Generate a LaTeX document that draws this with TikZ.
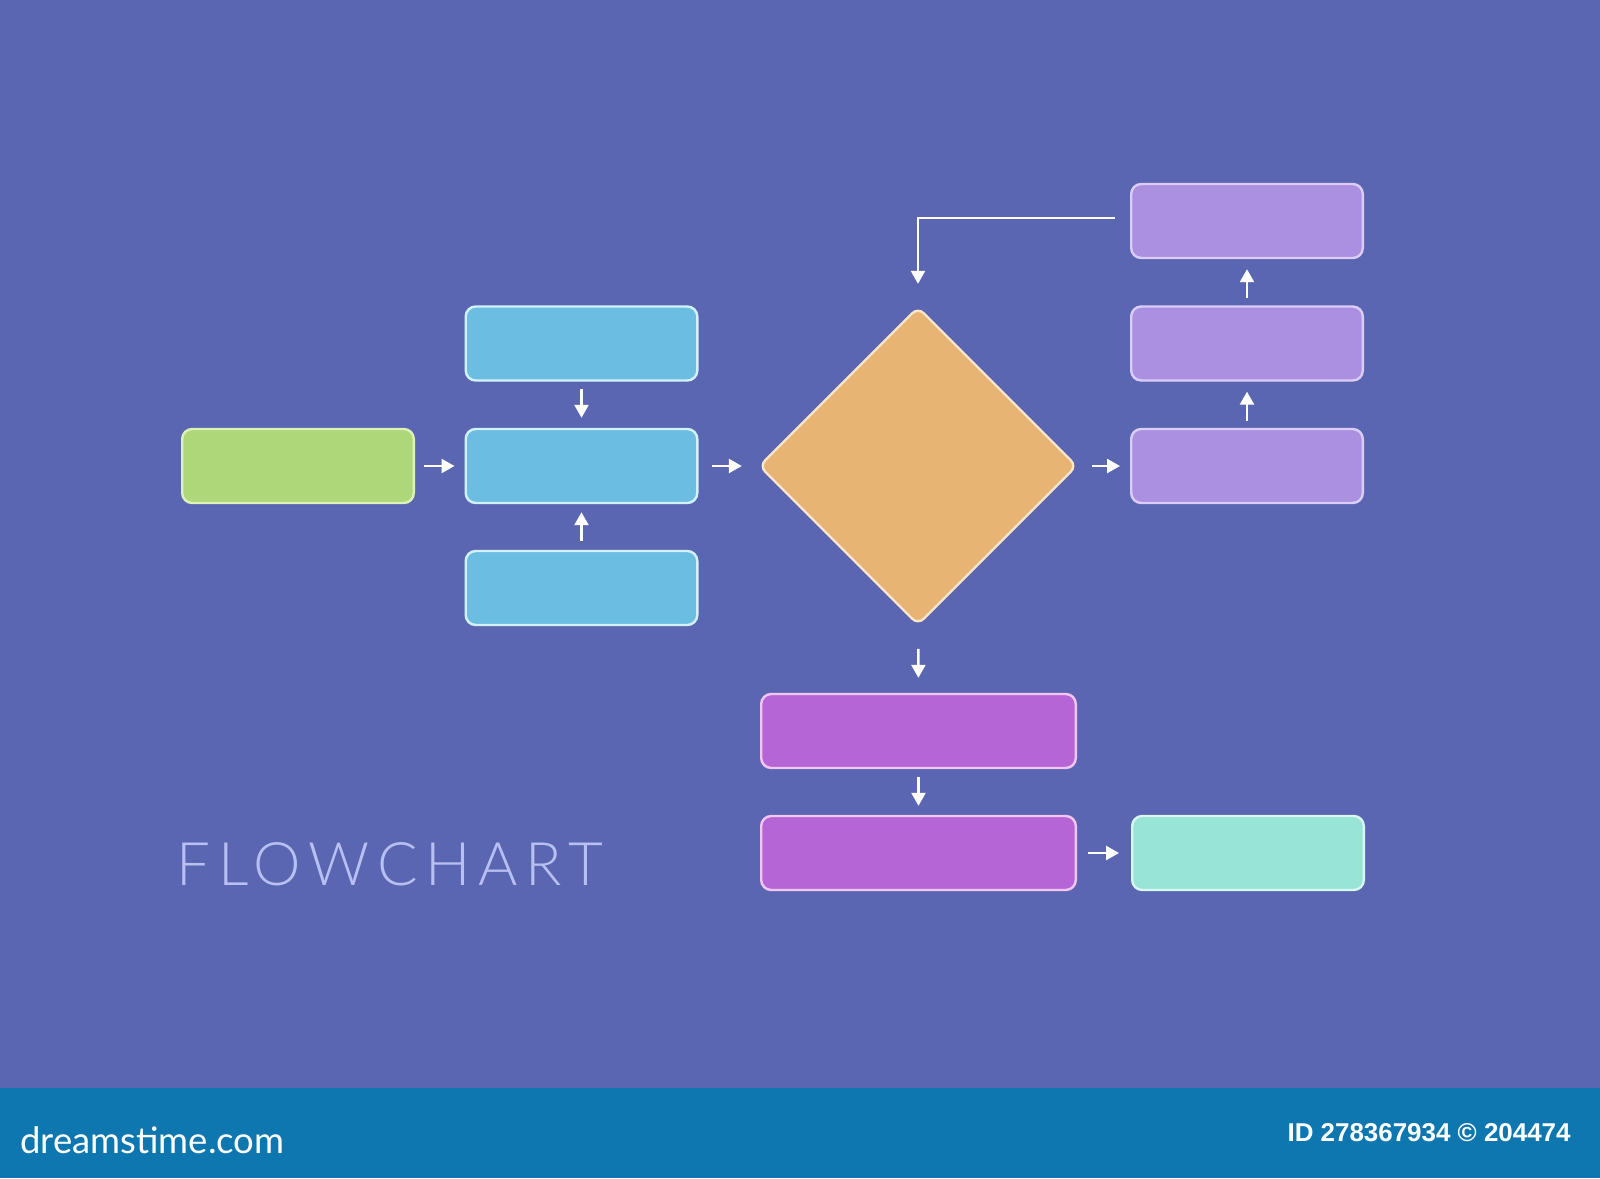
\documentclass[tikz,border=0pt]{standalone}
\usepackage{fontspec}
\setmainfont{Lato}
\newfontfamily\titlefont[LetterSpace=13]{Lato Light}
\newfontfamily\barfont{Liberation Sans}
\usetikzlibrary{shapes.geometric,arrows.meta}
\definecolor{bg}{HTML}{5B66B2}
\definecolor{barblue}{HTML}{0F77B0}
\definecolor{titlecol}{HTML}{B8C0F2}
\definecolor{gfill}{HTML}{AED77A}\definecolor{gdraw}{HTML}{DDF2B8}
\definecolor{bfill}{HTML}{6CBDE2}\definecolor{bdraw}{HTML}{D2F1FB}
\definecolor{ofill}{HTML}{E8B474}\definecolor{odraw}{HTML}{FBE6C8}
\definecolor{pfill}{HTML}{AB8FE0}\definecolor{pdraw}{HTML}{DCCDF7}
\definecolor{mfill}{HTML}{B665D6}\definecolor{mdraw}{HTML}{F2C6F2}
\definecolor{tfill}{HTML}{98E4D6}\definecolor{tdraw}{HTML}{D8F7F1}
\tikzset{
  box/.style={draw, rounded corners=5pt, line width=1.2pt, minimum width=115.8pt, minimum height=37pt, inner sep=0pt},
  gbox/.style={box, fill=gfill, draw=gdraw},
  bbox/.style={box, fill=bfill, draw=bdraw},
  pbox/.style={box, fill=pfill, draw=pdraw},
  mbox/.style={box, fill=mfill, draw=mdraw, minimum width=157.3pt},
  tbox/.style={box, fill=tfill, draw=tdraw},
  dia/.style={diamond, aspect=1, draw=odraw, fill=ofill, line width=1.2pt, rounded corners=4pt, minimum width=159pt, minimum height=159pt, inner sep=0pt},
  arr/.style={draw=white, line width=1.2pt, -{Triangle[width=7pt,length=6.5pt]}}
}
\begin{document}
\begin{tikzpicture}[x=0.5pt,y=-0.5pt]
\fill[bg] (0,0) rectangle (1600,1178);
\useasboundingbox (0,0) rectangle (1600,1178);
\fill[barblue] (0,1088) rectangle (1600,1178);

\node[gbox] (start) at (298,466) {};
\node[bbox] (btop) at (581.5,343.5) {};
\node[bbox] (bmid) at (581.5,466) {};
\node[bbox] (bbot) at (581.5,588) {};
\node[dia] (dec) at (918,466) {};
\node[pbox] (pbot) at (1247,466) {};
\node[pbox] (pmid) at (1247,343.5) {};
\node[pbox] (ptop) at (1247,221) {};
\node[mbox] (m1) at (918.5,731) {};
\node[mbox] (m2) at (918.5,853) {};
\node[tbox] (fin) at (1248,853) {};

\draw[arr, shorten <=4.5pt, shorten >=5pt] (start) -- (bmid);
\draw[arr, shorten <=3.5pt, shorten >=5pt] (btop) -- (bmid);
\draw[arr, shorten <=4.5pt, shorten >=4pt] (bbot) -- (bmid);
\draw[arr, shorten <=6.5pt, shorten >=8pt] (bmid) -- (dec);
\draw[arr, shorten <=7pt, shorten >=5pt] (dec) -- (pbot);
\draw[arr, shorten <=3.5pt, shorten >=5pt] (pbot) -- (pmid);
\draw[arr, shorten <=3.5pt, shorten >=5pt] (pmid) -- (ptop);
\draw[arr, shorten <=7.5pt, shorten >=11pt] ([yshift=1.5pt]ptop.west) -| (dec.north);
\draw[arr, shorten <=11.5pt, shorten >=7.5pt] (dec) -- (m1);
\draw[arr, shorten <=4pt, shorten >=4.5pt] (m1) -- (m2);
\draw[arr, shorten <=5.5pt, shorten >=6pt] (m2) -- (fin);

\node[anchor=base west, inner sep=0pt, text=titlecol, font=\titlefont\fontsize{30}{30}\selectfont] (title) at (176,885) {FLOWCHART};

\node[anchor=base west, inner sep=0pt, text=white] (site) at (20,1153) {\resizebox{132pt}{!}{dreamstime.com}};
\node[anchor=base east, inner sep=0pt, text=white] (imgid) at (1571,1141) {\resizebox{141.5pt}{9pt}{\barfont\bfseries ID 278367934 © 204474}};
\end{tikzpicture}
\end{document}
